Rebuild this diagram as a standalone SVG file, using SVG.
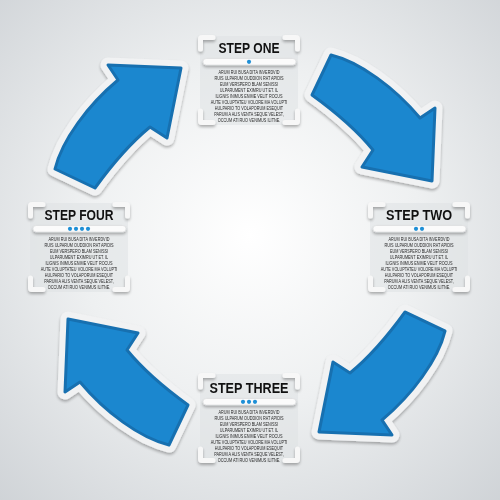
<svg xmlns="http://www.w3.org/2000/svg" width="500" height="500" viewBox="0 0 500 500">
<style>
.rim{fill:#f1f2f3;stroke:#f1f2f3;stroke-width:15;stroke-linejoin:round}
.blue{fill:#1b87cf;stroke:#1770b0;stroke-width:3;stroke-linejoin:round}
.panel{fill:#dfe1e3;opacity:0.55}
.brk{fill:none;stroke:#f7f7f7;stroke-width:5;stroke-linecap:round;stroke-linejoin:round}
.bar{fill:#fbfbfb;stroke:#d6d8da;stroke-width:0.6}
.dot{fill:#1e8fd6}
.title{font-family:"Liberation Sans",Arial,sans-serif;font-weight:bold;font-size:14px;fill:#111;text-anchor:middle}
.body{font-family:"Liberation Sans",Arial,sans-serif;font-size:5px;fill:#262626;text-anchor:middle}
</style>
<defs>
<radialGradient id="bg" cx="250" cy="235" r="380" gradientUnits="userSpaceOnUse">
<stop offset="0" stop-color="#ffffff"/>
<stop offset="0.45" stop-color="#eef0f1"/>
<stop offset="1" stop-color="#cdd1d5"/>
</radialGradient>
<filter id="sh" x="-20%" y="-20%" width="140%" height="140%">
<feGaussianBlur in="SourceAlpha" stdDeviation="1.8"/>
<feOffset dx="0" dy="1.5"/>
<feComponentTransfer><feFuncA type="linear" slope="0.3"/></feComponentTransfer>
<feMerge><feMergeNode/><feMergeNode in="SourceGraphic"/></feMerge>
</filter>
<path id="arrow" d="M331,55 C360,62 395,88 420,118 L435,108 L432,181 L362,167 L373,150 C355,128 330,108 312,95 Z"/>
</defs>
<rect width="500" height="500" fill="url(#bg)"/>

<g id="connectors">
  <g filter="url(#sh)">
    <use href="#arrow" class="rim"/>
    <use href="#arrow" class="rim" transform="rotate(90 250 250)"/>
    <use href="#arrow" class="rim" transform="rotate(180 250 250)"/>
    <use href="#arrow" class="rim" transform="rotate(270 250 250)"/>
  </g>
  <use href="#arrow" class="blue"/>
  <use href="#arrow" class="blue" transform="rotate(90 250 250)"/>
  <use href="#arrow" class="blue" transform="rotate(180 250 250)"/>
  <use href="#arrow" class="blue" transform="rotate(270 250 250)"/>
</g>

<g id="step-one" transform="translate(249,35)">
  <rect class="panel" x="-49" y="1" width="98" height="89" rx="3"/>
  <g filter="url(#sh)">
    <path class="brk" d="M-48.5,14 V4 Q-48.5,2.5 -47,2.5 H-36"/>
    <path class="brk" d="M48.5,14 V4 Q48.5,2.5 47,2.5 H36"/>
    <path class="brk" d="M-48.5,76 V86 Q-48.5,87.5 -47,87.5 H-36"/>
    <path class="brk" d="M48.5,76 V86 Q48.5,87.5 47,87.5 H36"/>
    <rect class="bar" x="-46" y="23.5" width="93" height="6.5" rx="3.2"/>
  </g>
  <text class="title" x="0" y="18" textLength="61" lengthAdjust="spacingAndGlyphs">STEP ONE</text>
  <circle class="dot" cx="0" cy="26.8" r="2.1"/>
  <g transform="scale(0.76,1)">
    <text class="body" x="0" y="39">ARUM RUI BUSA DITA INVERDVID</text>
    <text class="body" x="0" y="45">RUIS ULPARUM OUDDION RAT APIDIS</text>
    <text class="body" x="0" y="51">EUM VERSPERO BLAM SENISSI</text>
    <text class="body" x="0" y="57">ULPARUMENT EXIMRU UT ET. IL</text>
    <text class="body" x="0" y="63">ILIGNIS INIMUS ENIME VELIT ROCUS</text>
    <text class="body" x="0" y="69">AUTE VOLUPTATEU VOLORE MA VOLUPTI</text>
    <text class="body" x="0" y="75">HULPARIO TO VOLAPORUM ESEQUIT</text>
    <text class="body" x="0" y="81">PARUM A ALIS VENTA SEQUE VELEST,</text>
    <text class="body" x="0" y="87">OCCUM ATI RUO VENIMUS ILITNE.</text>
  </g>
</g>

<g id="step-two" transform="translate(419,202)">
  <rect class="panel" x="-49" y="1" width="98" height="89" rx="3"/>
  <g filter="url(#sh)">
    <path class="brk" d="M-48.5,14 V4 Q-48.5,2.5 -47,2.5 H-36"/>
    <path class="brk" d="M48.5,14 V4 Q48.5,2.5 47,2.5 H36"/>
    <path class="brk" d="M-48.5,76 V86 Q-48.5,87.5 -47,87.5 H-36"/>
    <path class="brk" d="M48.5,76 V86 Q48.5,87.5 47,87.5 H36"/>
    <rect class="bar" x="-46" y="23.5" width="93" height="6.5" rx="3.2"/>
  </g>
  <text class="title" x="0" y="18" textLength="66" lengthAdjust="spacingAndGlyphs">STEP TWO</text>
  <circle class="dot" cx="-3" cy="26.8" r="2.1"/>
  <circle class="dot" cx="3" cy="26.8" r="2.1"/>
  <g transform="scale(0.76,1)">
    <text class="body" x="0" y="39">ARUM RUI BUSA DITA INVERDVID</text>
    <text class="body" x="0" y="45">RUIS ULPARUM OUDDION RAT APIDIS</text>
    <text class="body" x="0" y="51">EUM VERSPERO BLAM SENISSI</text>
    <text class="body" x="0" y="57">ULPARUMENT EXIMRU UT ET. IL</text>
    <text class="body" x="0" y="63">ILIGNIS INIMUS ENIME VELIT ROCUS</text>
    <text class="body" x="0" y="69">AUTE VOLUPTATEU VOLORE MA VOLUPTI</text>
    <text class="body" x="0" y="75">HULPARIO TO VOLAPORUM ESEQUIT</text>
    <text class="body" x="0" y="81">PARUM A ALIS VENTA SEQUE VELEST,</text>
    <text class="body" x="0" y="87">OCCUM ATI RUO VENIMUS ILITNE.</text>
  </g>
</g>

<g id="step-three" transform="translate(249,373)">
  <rect class="panel" x="-49" y="1" width="98" height="89" rx="3"/>
  <g filter="url(#sh)">
    <path class="brk" d="M-48.5,14 V4 Q-48.5,2.5 -47,2.5 H-36"/>
    <path class="brk" d="M48.5,14 V4 Q48.5,2.5 47,2.5 H36"/>
    <path class="brk" d="M-48.5,76 V86 Q-48.5,87.5 -47,87.5 H-36"/>
    <path class="brk" d="M48.5,76 V86 Q48.5,87.5 47,87.5 H36"/>
    <rect class="bar" x="-46" y="25.5" width="93" height="6.5" rx="3.2"/>
  </g>
  <text class="title" x="0" y="20" textLength="79" lengthAdjust="spacingAndGlyphs">STEP THREE</text>
  <circle class="dot" cx="-6" cy="28.8" r="2.1"/>
  <circle class="dot" cx="0" cy="28.8" r="2.1"/>
  <circle class="dot" cx="6" cy="28.8" r="2.1"/>
  <g transform="scale(0.76,1)">
    <text class="body" x="0" y="41">ARUM RUI BUSA DITA INVERDVID</text>
    <text class="body" x="0" y="47">RUIS ULPARUM OUDDION RAT APIDIS</text>
    <text class="body" x="0" y="53">EUM VERSPERO BLAM SENISSI</text>
    <text class="body" x="0" y="59">ULPARUMENT EXIMRU UT ET. IL</text>
    <text class="body" x="0" y="65">ILIGNIS INIMUS ENIME VELIT ROCUS</text>
    <text class="body" x="0" y="71">AUTE VOLUPTATEU VOLORE MA VOLUPTI</text>
    <text class="body" x="0" y="77">HULPARIO TO VOLAPORUM ESEQUIT</text>
    <text class="body" x="0" y="83">PARUM A ALIS VENTA SEQUE VELEST,</text>
    <text class="body" x="0" y="89">OCCUM ATI RUO VENIMUS ILITNE.</text>
  </g>
</g>

<g id="step-four" transform="translate(79,202)">
  <rect class="panel" x="-49" y="1" width="98" height="89" rx="3"/>
  <g filter="url(#sh)">
    <path class="brk" d="M-48.5,14 V4 Q-48.5,2.5 -47,2.5 H-36"/>
    <path class="brk" d="M48.5,14 V4 Q48.5,2.5 47,2.5 H36"/>
    <path class="brk" d="M-48.5,76 V86 Q-48.5,87.5 -47,87.5 H-36"/>
    <path class="brk" d="M48.5,76 V86 Q48.5,87.5 47,87.5 H36"/>
    <rect class="bar" x="-46" y="23.5" width="93" height="6.5" rx="3.2"/>
  </g>
  <text class="title" x="0" y="18" textLength="69" lengthAdjust="spacingAndGlyphs">STEP FOUR</text>
  <circle class="dot" cx="-9" cy="26.8" r="2.1"/>
  <circle class="dot" cx="-3" cy="26.8" r="2.1"/>
  <circle class="dot" cx="3" cy="26.8" r="2.1"/>
  <circle class="dot" cx="9" cy="26.8" r="2.1"/>
  <g transform="scale(0.76,1)">
    <text class="body" x="0" y="39">ARUM RUI BUSA DITA INVERDVID</text>
    <text class="body" x="0" y="45">RUIS ULPARUM OUDDION RAT APIDIS</text>
    <text class="body" x="0" y="51">EUM VERSPERO BLAM SENISSI</text>
    <text class="body" x="0" y="57">ULPARUMENT EXIMRU UT ET. IL</text>
    <text class="body" x="0" y="63">ILIGNIS INIMUS ENIME VELIT ROCUS</text>
    <text class="body" x="0" y="69">AUTE VOLUPTATEU VOLORE MA VOLUPTI</text>
    <text class="body" x="0" y="75">HULPARIO TO VOLAPORUM ESEQUIT</text>
    <text class="body" x="0" y="81">PARUM A ALIS VENTA SEQUE VELEST,</text>
    <text class="body" x="0" y="87">OCCUM ATI RUO VENIMUS ILITNE.</text>
  </g>
</g>
</svg>
